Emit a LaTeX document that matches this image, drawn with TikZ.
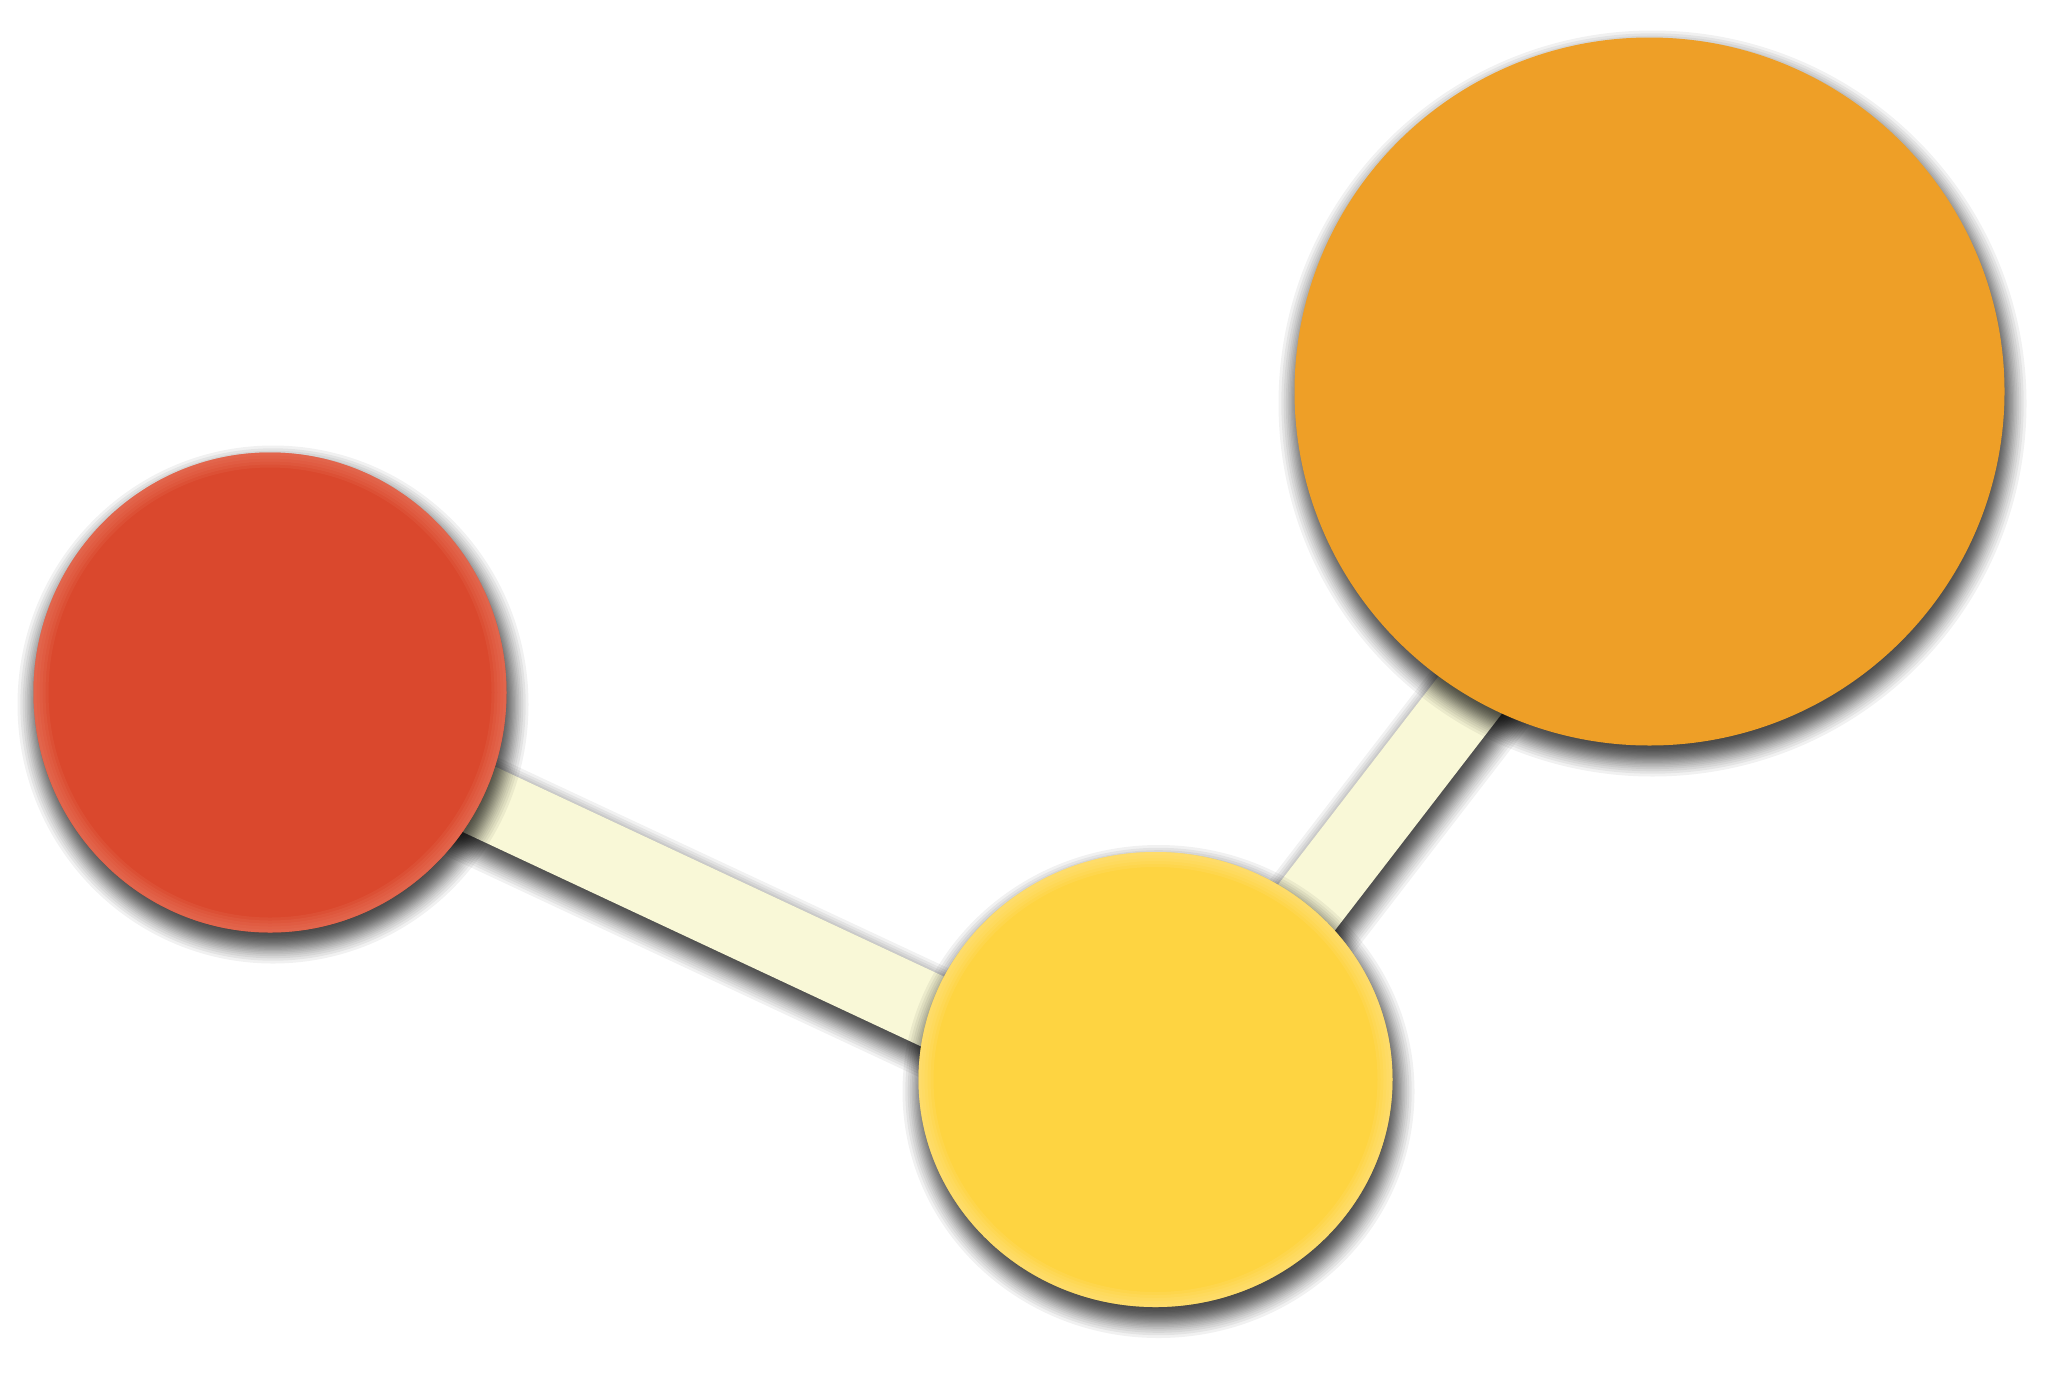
\documentclass[tikz,border=0pt]{standalone}
\usetikzlibrary{shapes.geometric}
\definecolor{cRed}{HTML}{DA482D}
\definecolor{cRedRim}{HTML}{EC7F69}
\definecolor{cOrange}{HTML}{EE9F27}
\definecolor{cYellow}{HTML}{FED441}
\definecolor{cYellowRim}{HTML}{FFE68E}
\definecolor{cBar}{HTML}{F9F8D7}
\tikzset{
  blob/.style={ellipse, inner sep=0pt, outer sep=0pt, draw=none},
  barline/.style={line width=73pt, draw=cBar, line cap=butt},
  shadowlayer/.style={black, opacity=0.055},
  rimlayer/.style={opacity=0.15},
}
% gaussian-like spread of the soft shadow
\newcommand\growlist{-20,-16.9,-13.8,-11.6,-9.8,-8.2,-6.7,-5.4,-4.1,-2.9,-1.7,-0.6,0.6,1.7,2.9,4.1,5.4,6.7,8.2,9.8,11.6,13.8,16.2,19}
\newcommand\softshadow[3]{%
  \foreach \g in \growlist {%
    \fill[shadowlayer] ([shift={(3,12)}]#1) ellipse [x radius={#2pt+\g pt}, y radius={#3pt+\g pt}];}}
\newcommand\barshadow[2]{%
  \foreach \g in \growlist {%
    \draw[shadowlayer, line width={73pt+2*\g pt}] ([shift={(3,12)}]#1) -- ([shift={(3,12)}]#2);}}
\newcommand\innerrim[4]{%
  \begin{scope}
    \clip (#1) ellipse [x radius=#2pt, y radius=#3pt];
    \foreach \w in {6,12,18,24,30}{%
      \draw[#4, rimlayer, line width=\w pt] (#1) ellipse [x radius=#2pt, y radius=#3pt];}
  \end{scope}}
\begin{document}
\begin{tikzpicture}[x=1pt, y=-1pt]
  \useasboundingbox (0,0) rectangle (2048,1398);
  \fill[white] (0,0) rectangle (2048,1398);
  % positions
  \coordinate (Rc) at (270,692.5);
  \coordinate (Yc) at (1155.5,1079.5);
  \coordinate (Oc) at (1649.5,391.5);
  \coordinate (rEnd) at ([shift={(0,9)}]Rc);
  \coordinate (hub) at ([shift={(-7,33)}]Yc);
  \coordinate (oEnd) at ([shift={(54.5,0)}]Oc);
  % connector shadows
  \barshadow{rEnd}{hub}
  \barshadow{hub}{oEnd}
  % connectors
  \draw[barline] (rEnd) -- (hub);
  \draw[barline] (hub) -- (oEnd);
  % circle shadows
  \softshadow{Rc}{236.5}{240}
  \softshadow{Yc}{237}{227.5}
  \softshadow{Oc}{355}{354}
  % circles
  \node[blob, fill=cRed, minimum width=473pt, minimum height=480pt] (R) at (Rc) {};
  \node[blob, fill=cYellow, minimum width=474pt, minimum height=455pt] (Y) at (Yc) {};
  \node[blob, fill=cOrange, minimum width=710pt, minimum height=708pt] (O) at (Oc) {};
  % soft lighter rims
  \innerrim{R.center}{236.5}{240}{cRedRim}
  \innerrim{Y.center}{237}{227.5}{cYellowRim}
\end{tikzpicture}
\end{document}
